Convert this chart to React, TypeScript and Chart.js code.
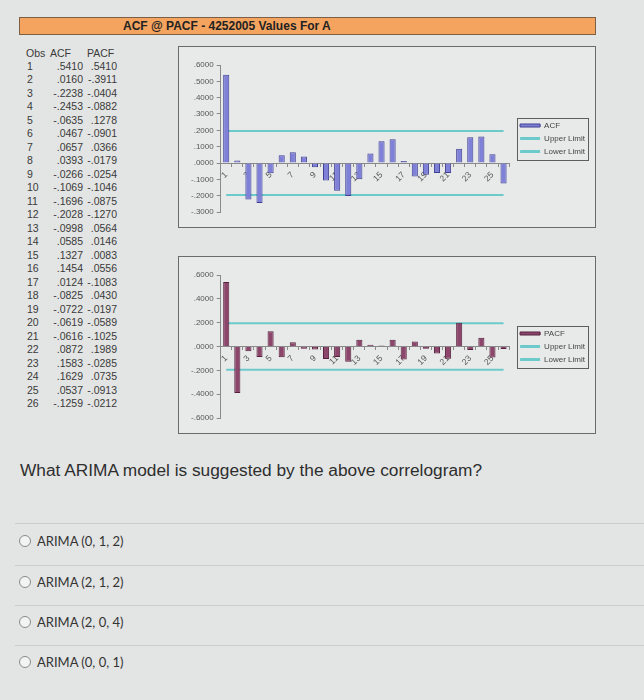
import React, { useEffect, useRef } from 'react';
import { Chart, registerables } from 'chart.js';

Chart.register(...registerables);
Chart.defaults.font.family = '"Liberation Sans", Arial, sans-serif';

const obs = ['1', '2', '3', '4', '5', '6', '7', '8', '9', '10', '11', '12', '13', '14', '15', '16', '17', '18', '19', '20', '21', '22', '23', '24', '25', '26'];
const acf = [0.541, 0.016, -0.2238, -0.2453, -0.0635, 0.0467, 0.0657, 0.0393, -0.0266, -0.1069, -0.1696, -0.2028, -0.0998, 0.0585, 0.1327, 0.1454, 0.0124, -0.0825, -0.0722, -0.0619, -0.0616, 0.0872, 0.1583, 0.1629, 0.0537, -0.1259];
const pacf = [0.541, -0.3911, -0.0404, -0.0882, 0.1278, -0.0901, 0.0366, -0.0179, -0.0254, -0.1046, -0.0875, -0.127, 0.0564, 0.0146, 0.0083, 0.0556, -0.1083, 0.043, -0.0197, -0.0589, -0.1025, 0.1989, -0.0285, 0.0735, -0.0913, -0.0212];
const upperLimit = 0.1961;
const lowerLimit = -0.1961;
const acfYTicks = [-0.3, -0.2, -0.1, 0, 0.1, 0.2, 0.3, 0.4, 0.5, 0.6];
const pacfYTicks = [-0.6, -0.4, -0.2, 0, 0.2, 0.4, 0.6];
const answers = ['ARIMA (0, 1, 2)', 'ARIMA (2, 1, 2)', 'ARIMA (2, 0, 4)', 'ARIMA (0, 0, 1)'];

const limitColor = '#6ccacb';

const fmt = (v: number) => {
    if (Math.abs(v) < 1e-9) return '.0000';
    return (v < 0 ? '-' : '') + Math.abs(v).toFixed(4).replace(/^0/, '');
};

// draws the thin frame round the legend items, like the Excel legend
const legendBox = {
    id: 'legendBox',
    afterDraw(chart: any) {
        const l = chart.legend;
        if (!l || !l.legendHitBoxes || !l.legendHitBoxes.length) return;
        const hb = l.legendHitBoxes;
        const x0 = Math.min(...hb.map((h: any) => h.left)) - 3;
        const x1 = Math.max(...hb.map((h: any) => h.left + h.width)) + 3;
        const y0 = Math.min(...hb.map((h: any) => h.top)) - 4;
        const y1 = Math.max(...hb.map((h: any) => h.top + h.height)) + 4;
        const ctx = chart.ctx;
        ctx.save();
        ctx.strokeStyle = '#5e5e5e';
        ctx.lineWidth = 1;
        ctx.strokeRect(Math.round(x0) + 0.5, Math.round(y0) + 0.5, Math.round(x1 - x0), Math.round(y1 - y0));
        ctx.restore();
    },
};

interface CorrChartProps {
    label: string;
    values: number[];
    fill: string;
    stroke: string;
    yTicks: number[];
    bottomPad: number;
}

const CorrChart: React.FC<CorrChartProps> = ({ label, values, fill, stroke, yTicks, bottomPad }) => {
    const canvasRef = useRef<HTMLCanvasElement | null>(null);

    useEffect(() => {
        if (!canvasRef.current) return;
        const chart = new Chart(canvasRef.current, {
            type: 'bar',
            data: {
                labels: obs,
                datasets: [
                    {
                        type: 'bar',
                        label,
                        data: values,
                        backgroundColor: fill,
                        borderColor: stroke,
                        borderWidth: 1,
                        barPercentage: 0.55,
                        categoryPercentage: 1,
                        yAxisID: 'y',
                    },
                    {
                        type: 'line',
                        label: 'Upper Limit',
                        data: obs.map(() => upperLimit),
                        borderColor: limitColor,
                        backgroundColor: limitColor,
                        borderWidth: 2,
                        pointRadius: 0,
                        yAxisID: 'y',
                    },
                    {
                        type: 'line',
                        label: 'Lower Limit',
                        data: obs.map(() => lowerLimit),
                        borderColor: limitColor,
                        backgroundColor: limitColor,
                        borderWidth: 2,
                        pointRadius: 0,
                        yAxisID: 'y',
                    },
                ],
            } as any,
            options: {
                responsive: true,
                maintainAspectRatio: false,
                animation: false,
                layout: { padding: { left: 9, right: 0, top: 18, bottom: bottomPad } },
                plugins: {
                    tooltip: { enabled: false },
                    legend: {
                        position: 'right',
                        maxWidth: 120,
                        labels: {
                            boxWidth: 20,
                            boxHeight: 3,
                            padding: 5,
                            color: '#444',
                            font: { size: 8 },
                            generateLabels: (c: any) =>
                                (Chart.defaults.plugins.legend.labels as any).generateLabels(c).map((item: any, i: number) => ({
                                    ...item,
                                    lineWidth: i === 0 ? 1 : 0,
                                })),
                        },
                    },
                },
                scales: {
                    x: {
                        type: 'category',
                        position: { y: 0 },
                        grid: { drawOnChartArea: false, tickLength: 3, color: '#8a8a8a' },
                        border: { color: '#8a8a8a' },
                        ticks: {
                            autoSkip: false,
                            minRotation: 45,
                            maxRotation: 45,
                            padding: 4,
                            color: '#555',
                            font: { size: 8.5 },
                            callback: (_v: any, i: number) => (i % 2 === 0 ? obs[i] : ''),
                        },
                    },
                    y: {
                        type: 'linear',
                        position: 'left',
                        min: yTicks[0],
                        max: yTicks[yTicks.length - 1],
                        afterBuildTicks: (axis: any) => {
                            axis.ticks = yTicks.map((v) => ({ value: v }));
                        },
                        grid: { drawOnChartArea: false, tickLength: 4, color: '#8a8a8a' },
                        border: { color: '#8a8a8a' },
                        ticks: {
                            padding: 3,
                            color: '#555',
                            font: { size: 8 },
                            callback: (v: any) => fmt(Number(v)),
                        },
                    },
                    // empty axis that only keeps a gap between plot and legend
                    gap: {
                        type: 'linear',
                        position: 'right',
                        grid: { display: false },
                        border: { display: false },
                        ticks: { display: false },
                        afterFit: (s: any) => {
                            s.width = 6;
                        },
                    },
                },
            } as any,
            plugins: [legendBox],
        });
        return () => {
            chart.destroy();
        };
    }, [label, values, fill, stroke, yTicks, bottomPad]);

    return <canvas ref={canvasRef}></canvas>;
};

const rowTop = 60;
const rowStep = 13.48;

const App: React.FC = () => {
    return (
        <div
            style={{
                position: 'absolute',
                left: 0,
                top: 0,
                width: 644,
                height: 700,
                overflow: 'hidden',
                background: '#e3e5e4',
                fontFamily: '"Liberation Sans", Arial, sans-serif',
                color: '#3a3a3a',
            }}
        >
            <div
                style={{
                    position: 'absolute',
                    left: 19,
                    top: 17,
                    width: 577,
                    height: 18,
                    boxSizing: 'border-box',
                    background: '#f4a45f',
                    border: '1px solid #7d5f45',
                    fontWeight: 'bold',
                    fontSize: 12,
                    lineHeight: '16px',
                    color: '#222',
                    paddingLeft: 103,
                    whiteSpace: 'nowrap',
                }}
            >
                ACF @ PACF - 4252005 Values For A
            </div>

            <div style={{ position: 'absolute', left: 0, top: 46.5, width: 130, height: 13, fontSize: 10.5, lineHeight: '13px' }}>
                <span style={{ position: 'absolute', left: 26 }}>Obs</span>
                <span style={{ position: 'absolute', left: 50 }}>ACF</span>
                <span style={{ position: 'absolute', left: 87 }}>PACF</span>
            </div>
            {obs.map((o, i) => (
                <div
                    key={o}
                    style={{
                        position: 'absolute',
                        left: 0,
                        top: rowTop + i * rowStep,
                        width: 130,
                        height: 13,
                        fontSize: 10.5,
                        lineHeight: '13px',
                    }}
                >
                    <span style={{ position: 'absolute', left: 27 }}>{o}</span>
                    <span style={{ position: 'absolute', left: 40, width: 43, textAlign: 'right' }}>{fmt(acf[i])}</span>
                    <span style={{ position: 'absolute', left: 80, width: 37, textAlign: 'right' }}>{fmt(pacf[i])}</span>
                </div>
            ))}

            <div
                style={{
                    position: 'absolute',
                    left: 178,
                    top: 46,
                    width: 418,
                    height: 182,
                    boxSizing: 'border-box',
                    border: '1px solid #6b6b6b',
                    background: '#e8eae9',
                }}
            >
                <div style={{ position: 'relative', width: '100%', height: '100%' }}>
                    <CorrChart label="ACF" values={acf} fill="#7f81d8" stroke="#3f3f92" yTicks={acfYTicks} bottomPad={15} />
                </div>
            </div>

            <div
                style={{
                    position: 'absolute',
                    left: 178,
                    top: 256,
                    width: 418,
                    height: 178,
                    boxSizing: 'border-box',
                    border: '1px solid #6b6b6b',
                    background: '#e8eae9',
                }}
            >
                <div style={{ position: 'relative', width: '100%', height: '100%' }}>
                    <CorrChart label="PACF" values={pacf} fill="#8d466b" stroke="#55203d" yTicks={pacfYTicks} bottomPad={15} />
                </div>
            </div>

            <div
                style={{
                    position: 'absolute',
                    left: 20,
                    top: 459,
                    fontSize: 17.3,
                    lineHeight: '22px',
                    color: '#2e2e2e',
                    whiteSpace: 'nowrap',
                }}
            >
                What ARIMA model is suggested by the above correlogram?
            </div>

            {answers.map((a, i) => {
                const ruleY = [523, 565, 605, 645][i];
                const textY = [541, 582, 622, 662][i];
                return (
                    <React.Fragment key={a}>
                        <div style={{ position: 'absolute', left: 15, top: ruleY, width: 629, height: 1, background: '#cbcdcc' }} />
                        <div
                            style={{
                                position: 'absolute',
                                left: 19,
                                top: textY - 6,
                                width: 12,
                                height: 12,
                                boxSizing: 'border-box',
                                borderRadius: '50%',
                                border: '1px solid #8a8a8a',
                                background: '#f2f3f3',
                            }}
                        />
                        <div
                            style={{
                                position: 'absolute',
                                left: 37,
                                top: textY - 10,
                                fontFamily: 'Lato, sans-serif',
                                fontSize: 13,
                                lineHeight: '20px',
                                color: '#333',
                                whiteSpace: 'nowrap',
                            }}
                        >
                            {a}
                        </div>
                    </React.Fragment>
                );
            })}
        </div>
    );
};

export default App;
